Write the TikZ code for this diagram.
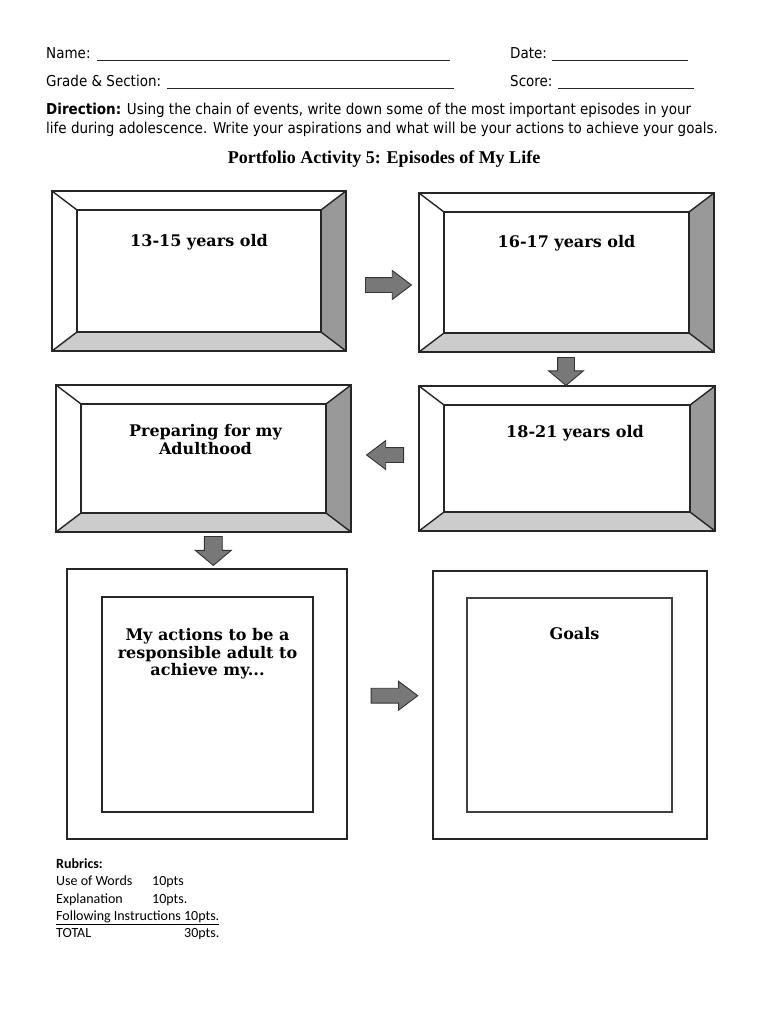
\documentclass[tikz,border=0pt]{standalone}
\usepackage{fontspec}
\setmainfont{Carlito}
\newfontfamily\headfont{DejaVu Sans Condensed}
\newfontfamily\titlefont{Liberation Serif}
\newfontfamily\labelfont{DejaVu Serif}
\usetikzlibrary{shapes.arrows, positioning, fit}

\definecolor{bevdark}{gray}{0.6}
\definecolor{bevlight}{gray}{0.8}
\definecolor{arrowgray}{gray}{0.47}
\definecolor{edgegray}{gray}{0.15}

\tikzset{
  frame/.style={draw=edgegray, line width=1.4pt},
  boxlabel/.style={inner sep=0pt, align=center, font=\labelfont\bfseries\fontsize{16}{17.5}\selectfont},
  headtext/.style={inner sep=0pt, anchor=base west, font=\headfont\fontsize{15}{18}\selectfont},
  rubtext/.style={inner sep=0pt, anchor=base west, font=\fontsize{14}{17}\selectfont},
  blank/.style={line width=0.8pt, draw=black!85},
  blockarrow/.style={single arrow, draw=black!80, fill=arrowgray, line width=0.9pt,
    inner xsep=0pt, inner ysep=7pt, single arrow head extend=7pt,
    single arrow head indent=0pt, single arrow tip angle=74, minimum height=#1},
  downarrow/.style={blockarrow=#1, shape border rotate=270, inner xsep=8pt, inner ysep=0pt,
    single arrow head extend=9pt, single arrow tip angle=100},
}

% bevelled picture frame: name, outer top left, outer bottom right
\newcommand{\bevelbox}[5]{%
  \fill[white] (#2,#3) rectangle (#4,#5);
  \fill[bevdark] (#4,#3) -- (#4,#5) -- (#4-25,#5-19) -- (#4-25,#3+19) -- cycle;
  \fill[bevlight] (#2,#5) -- (#4,#5) -- (#4-25,#5-19) -- (#2+25,#5-19) -- cycle;
  \draw[frame] (#2,#3) rectangle (#4,#5);
  \draw[frame] (#2,#3) -- (#2+25,#3+19) (#4,#3) -- (#4-25,#3+19)
               (#2,#5) -- (#2+25,#5-19) (#4,#5) -- (#4-25,#5-19);
  \node[frame, inner sep=0pt, fit={(#2+25,#3+19) (#4-25,#5-19)}] (#1) {};
}

\begin{document}
\begin{tikzpicture}[x=1pt, y=-1pt]
    \useasboundingbox[fill=white] (0,0) rectangle (768,1024);

    % Header lines
    \node[headtext] (name) at (46,58.3) {Name:};
    \draw[blank] (97,60) -- (450,60);
    \node[headtext] (date) at (510,58.3) {Date:};
    \draw[blank] (552,60) -- (688,60);
    \node[headtext] (grade) at (46,86.7) {Grade \& Section:};
    \draw[blank] (167,88.5) -- (454,88.5);
    \node[headtext] (score) at (510,86.7) {Score:};
    \draw[blank] (558,88.5) -- (694,88.5);

    % Direction
    \node[headtext] (dir1) at (46,115) {\textbf{Direction:} Using the chain of events, write down some of the most important episodes in your};
    \node[headtext] (dir2) at (46,133.3) {life during adolescence. Write your aspirations and what will be your actions to achieve your goals.};

    % Title
    \node[inner sep=0pt, anchor=base, font=\titlefont\bfseries\fontsize{18}{20}\selectfont] (title) at (384,164) {Portfolio Activity 5: Episodes of My Life};

    % Chain of events - bevelled frames
    \bevelbox{b1}{52}{191}{346}{351}
    \bevelbox{b2}{419}{193}{714}{352}
    \bevelbox{b3}{419}{386}{715}{531}
    \bevelbox{b4}{56}{385}{351}{532}

    \node[boxlabel, below=25pt of b1.north] (t1) {13-15 years old};
    \node[boxlabel, below=24pt of b2.north] (t2) {16-17 years old};
    \node[boxlabel, below=21pt of b3.north, xshift=8pt] (t3) {18-21 years old};
    \node[boxlabel, below=21pt of b4.north, xshift=2pt] (t4) {Preparing for my\\Adulthood};

    % Plain double frames
    \draw[frame] (67,569) rectangle (347,839);
    \node[frame, inner sep=0pt, fit={(102,597) (313,812)}] (b5) {};
    \draw[frame] (433,571) rectangle (707,839);
    \node[frame, line width=2.2pt, draw=black!75, inner sep=0pt, fit={(467,598) (672,812)}] (b6) {};

    \node[boxlabel, below=32pt of b5.north] (t5) {My actions to be a\\responsible adult to\\achieve my...};
    \node[boxlabel, below=30pt of b6.north, xshift=5pt] (t6) {Goals};

    % Block arrows between frames
    \node[blockarrow=46pt, anchor=tail] (a12) at (365,285) {};
    \node[downarrow=28pt, anchor=tail] (a23) at (566,357) {};
    \node[blockarrow=37pt, shape border rotate=180, anchor=tail] (a34) at (404,455) {};
    \node[downarrow=29pt, inner xsep=8.5pt, anchor=tail] (a45) at (213.3,536) {};
    \node[blockarrow=46.6pt, anchor=tail] (a56) at (370.7,695.7) {};

    % Rubrics
    \node[rubtext] (rub) at (56,868.5) {\textbf{Rubrics:}};
    \node[rubtext] (r1) at (56,885.75) {Use of Words};
    \node[rubtext] (p1) at (152,885.75) {10pts};
    \node[rubtext] (r2) at (56,903) {Explanation};
    \node[rubtext] (p2) at (152,903) {10pts.};
    \node[rubtext] (r3) at (56,920.25) {\underline{Following Instructions 10pts.}};
    \node[rubtext] (r4) at (56,937.5) {TOTAL};
    \node[rubtext] (p4) at (184,937.5) {30pts.};
\end{tikzpicture}
\end{document}
